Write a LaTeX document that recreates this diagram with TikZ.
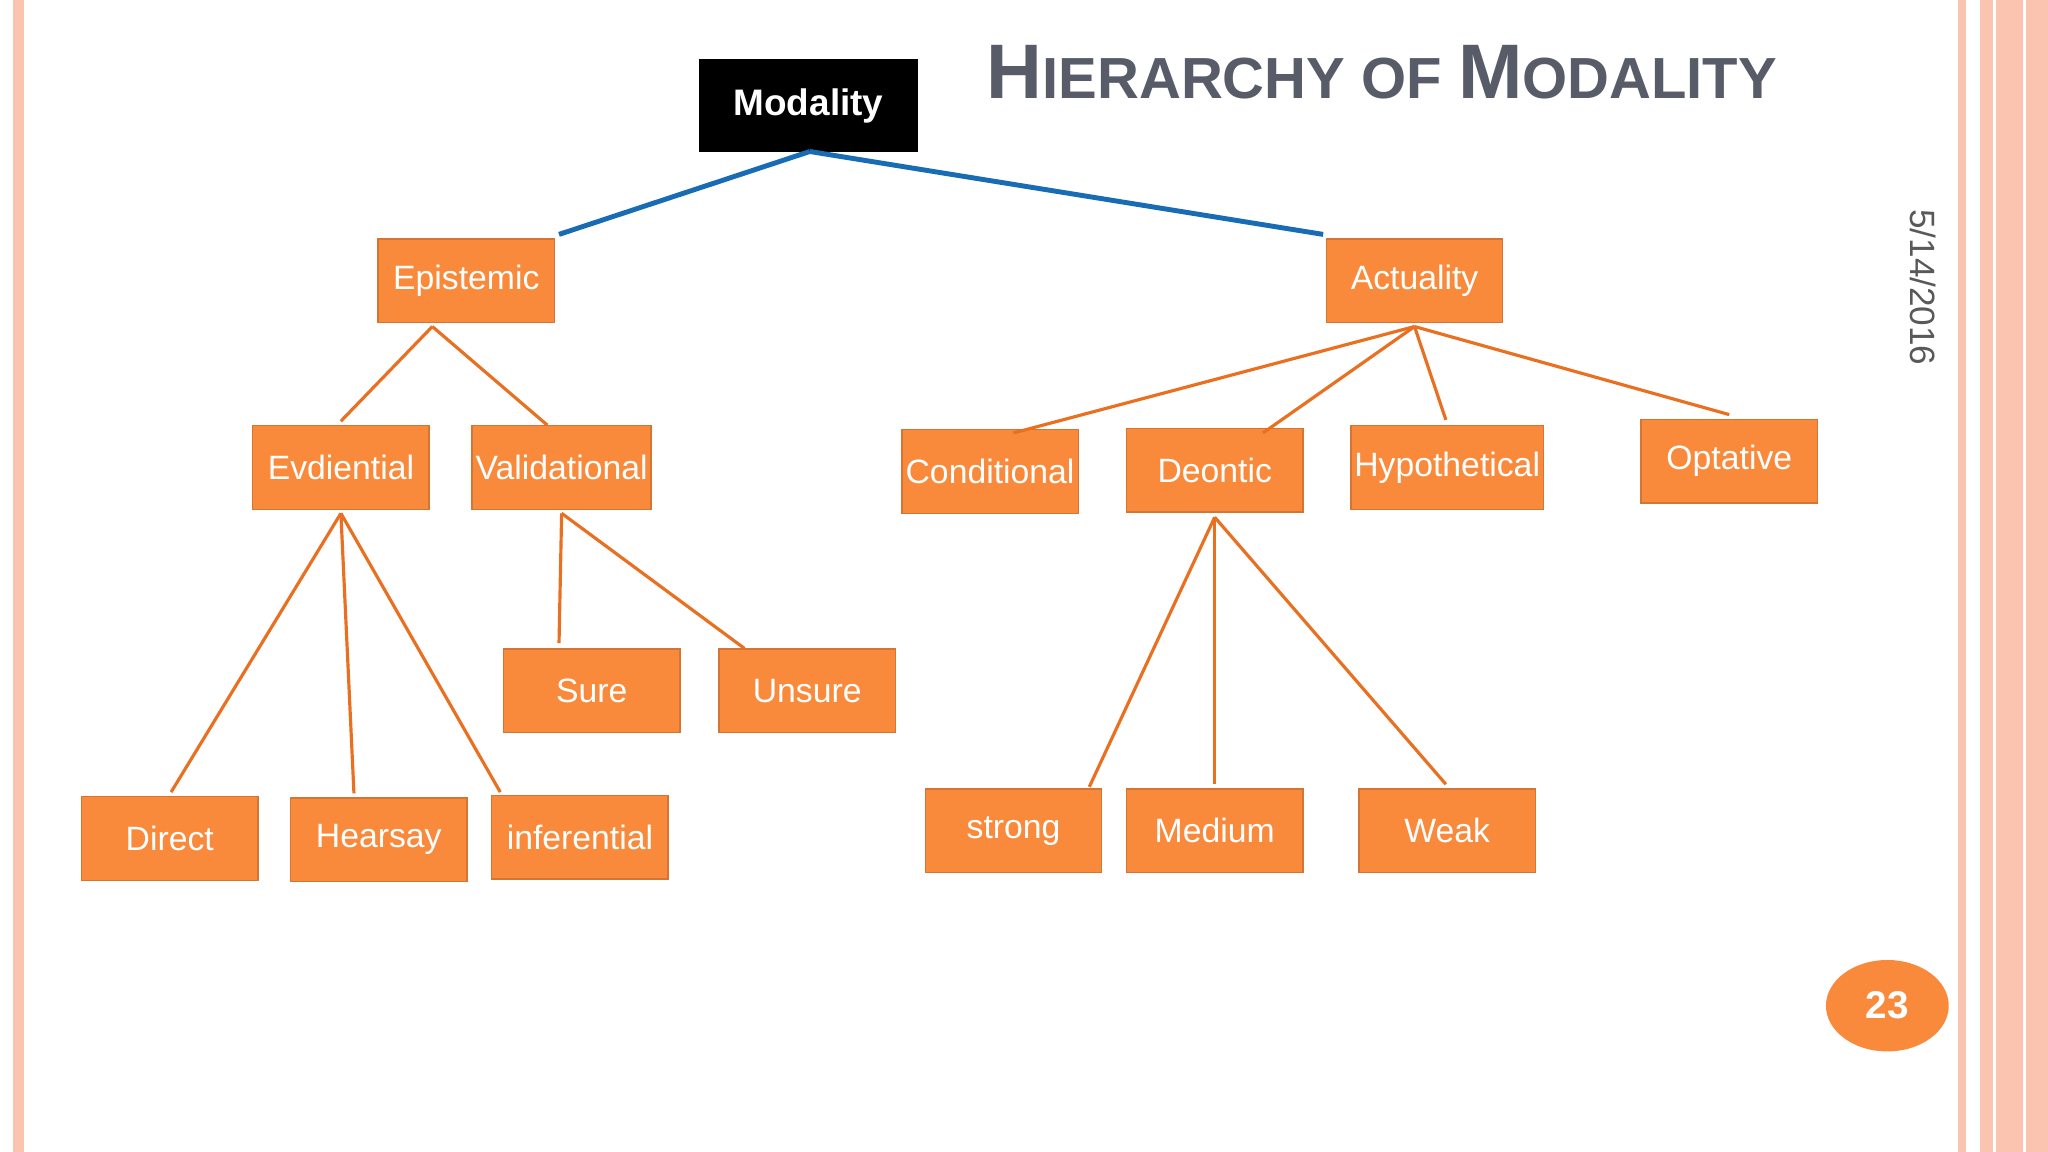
\documentclass[tikz,border=0pt]{standalone}
\usepackage{fontspec}
\setmainfont{Liberation Sans}
\usetikzlibrary{positioning, shapes.geometric}
\definecolor{boxorange}{RGB}{249,138,60}
\definecolor{edgeorange}{RGB}{232,112,32}
\definecolor{linkblue}{RGB}{24,108,180}
\definecolor{titlegray}{RGB}{88,92,104}
\definecolor{bandpink}{RGB}{250,196,176}

\begin{document}
\begin{tikzpicture}[
  x=0.01306cm, y=-0.01306cm,
  catbox/.style={
    draw=boxorange!85!black,
    fill=boxorange,
    text=white,
    minimum width=135*0.01306cm,
    minimum height=64*0.01306cm,
    inner sep=1pt,
    font=\fontsize{9.6}{11}\selectfont,
  },
  rootbox/.style={
    draw=black,
    fill=black,
    text=white,
    minimum width=166*0.01306cm,
    minimum height=70*0.01306cm,
    font=\fontsize{10.5}{12}\selectfont\bfseries,
  },
  toplink/.style={draw=linkblue, line width=1.4pt},
  sublink/.style={draw=edgeorange, line width=0.9pt},
]
  \useasboundingbox (0,0) rectangle (1568,882);

  % slide frame
  \fill[bandpink] (10,0) rectangle (18,882);
  \fill[bandpink] (1499,0) rectangle (1505,882);
  \fill[bandpink] (1516,0) rectangle (1568,882);
  \draw[white, line width=1pt] (1527,0) -- (1527,882);
  \draw[white, line width=1pt] (1550,0) -- (1550,882);

  % title, date, page
  \node[text=titlegray, font=\bfseries] (title) at (1058,55)
    {\fontsize{22}{24}\selectfont H\fontsize{16.5}{18}\selectfont IERARCHY OF
     \fontsize{22}{24}\selectfont M\fontsize{16.5}{18}\selectfont ODALITY};
  \node[rotate=-90, text=black!65, font=\fontsize{10}{12}\selectfont] (date) at (1472,220) {5/14/2016};
  \node[ellipse, fill=boxorange, minimum width=94*0.01306cm, minimum height=70*0.01306cm,
        text=white, font=\fontsize{11}{13}\selectfont\bfseries] (page) at (1445,770) {23};

  % nodes
  \node[rootbox] (mod) at (619,81) {Modality};
  \node[catbox] (epi) at (357,215) {Epistemic};
  \node[catbox] (act) at (1083,215) {Actuality};
  \node[catbox] (evd) at (261,358) {Evdiential};
  \node[catbox] (val) at (430,358) {Validational};
  \node[catbox] (cond) at (758,361) {Conditional};
  \node[catbox] (deo) at (930,360) {Deontic};
  \node[catbox] (hyp) at (1108,358) {Hypothetical};
  \node[catbox] (opt) at (1324,353) {Optative};
  \node[catbox] (sure) at (453,529) {Sure};
  \node[catbox] (unsure) at (618,529) {Unsure};
  \node[catbox] (dir) at (130,642) {Direct};
  \node[catbox] (hear) at (290,643) {Hearsay};
  \node[catbox] (inf) at (444,641) {inferential};
  \node[catbox] (str) at (776,636) {strong};
  \node[catbox] (med) at (930,636) {Medium};
  \node[catbox] (weak) at (1108,636) {Weak};

  % branch points
  \coordinate (mod-b) at (620,116);
  \coordinate (epi-b) at (331,250);
  \coordinate (act-b) at (1083,250);
  \coordinate (evd-b) at (261,393);
  \coordinate (val-b) at (430,393);
  \coordinate (deo-b) at (930,396);

  % links
  \draw[toplink] (mod-b) -- ([xshift=71*0.01306cm, yshift=3*0.01306cm]epi.north);
  \draw[toplink] (mod-b) -- ([xshift=-70*0.01306cm, yshift=3*0.01306cm]act.north);
  \draw[sublink] (epi-b) -- ([yshift=3*0.01306cm]evd.north);
  \draw[sublink] (epi-b) -- ([xshift=-11*0.01306cm]val.north);
  \draw[sublink] (act-b) -- ([xshift=18*0.01306cm, yshift=-3*0.01306cm]cond.north);
  \draw[sublink] (act-b) -- ([xshift=37*0.01306cm, yshift=-4*0.01306cm]deo.north);
  \draw[sublink] (act-b) -- ([xshift=-1*0.01306cm, yshift=4*0.01306cm]hyp.north);
  \draw[sublink] (act-b) -- ([yshift=3*0.01306cm]opt.north);
  \draw[sublink] (evd-b) -- ([xshift=1*0.01306cm, yshift=3*0.01306cm]dir.north);
  \draw[sublink] (evd-b) -- ([xshift=-19*0.01306cm, yshift=3*0.01306cm]hear.north);
  \draw[sublink] (evd-b) -- ([xshift=-61*0.01306cm, yshift=2*0.01306cm]inf.north);
  \draw[sublink] (val-b) -- ([xshift=-25*0.01306cm, yshift=4*0.01306cm]sure.north);
  \draw[sublink] (val-b) -- ([xshift=-48*0.01306cm]unsure.north);
  \draw[sublink] (deo-b) -- ([xshift=58*0.01306cm, yshift=1*0.01306cm]str.north);
  \draw[sublink] (deo-b) -- ([yshift=3*0.01306cm]med.north);
  \draw[sublink] (deo-b) -- ([xshift=-1*0.01306cm, yshift=3*0.01306cm]weak.north);
\end{tikzpicture}
\end{document}
